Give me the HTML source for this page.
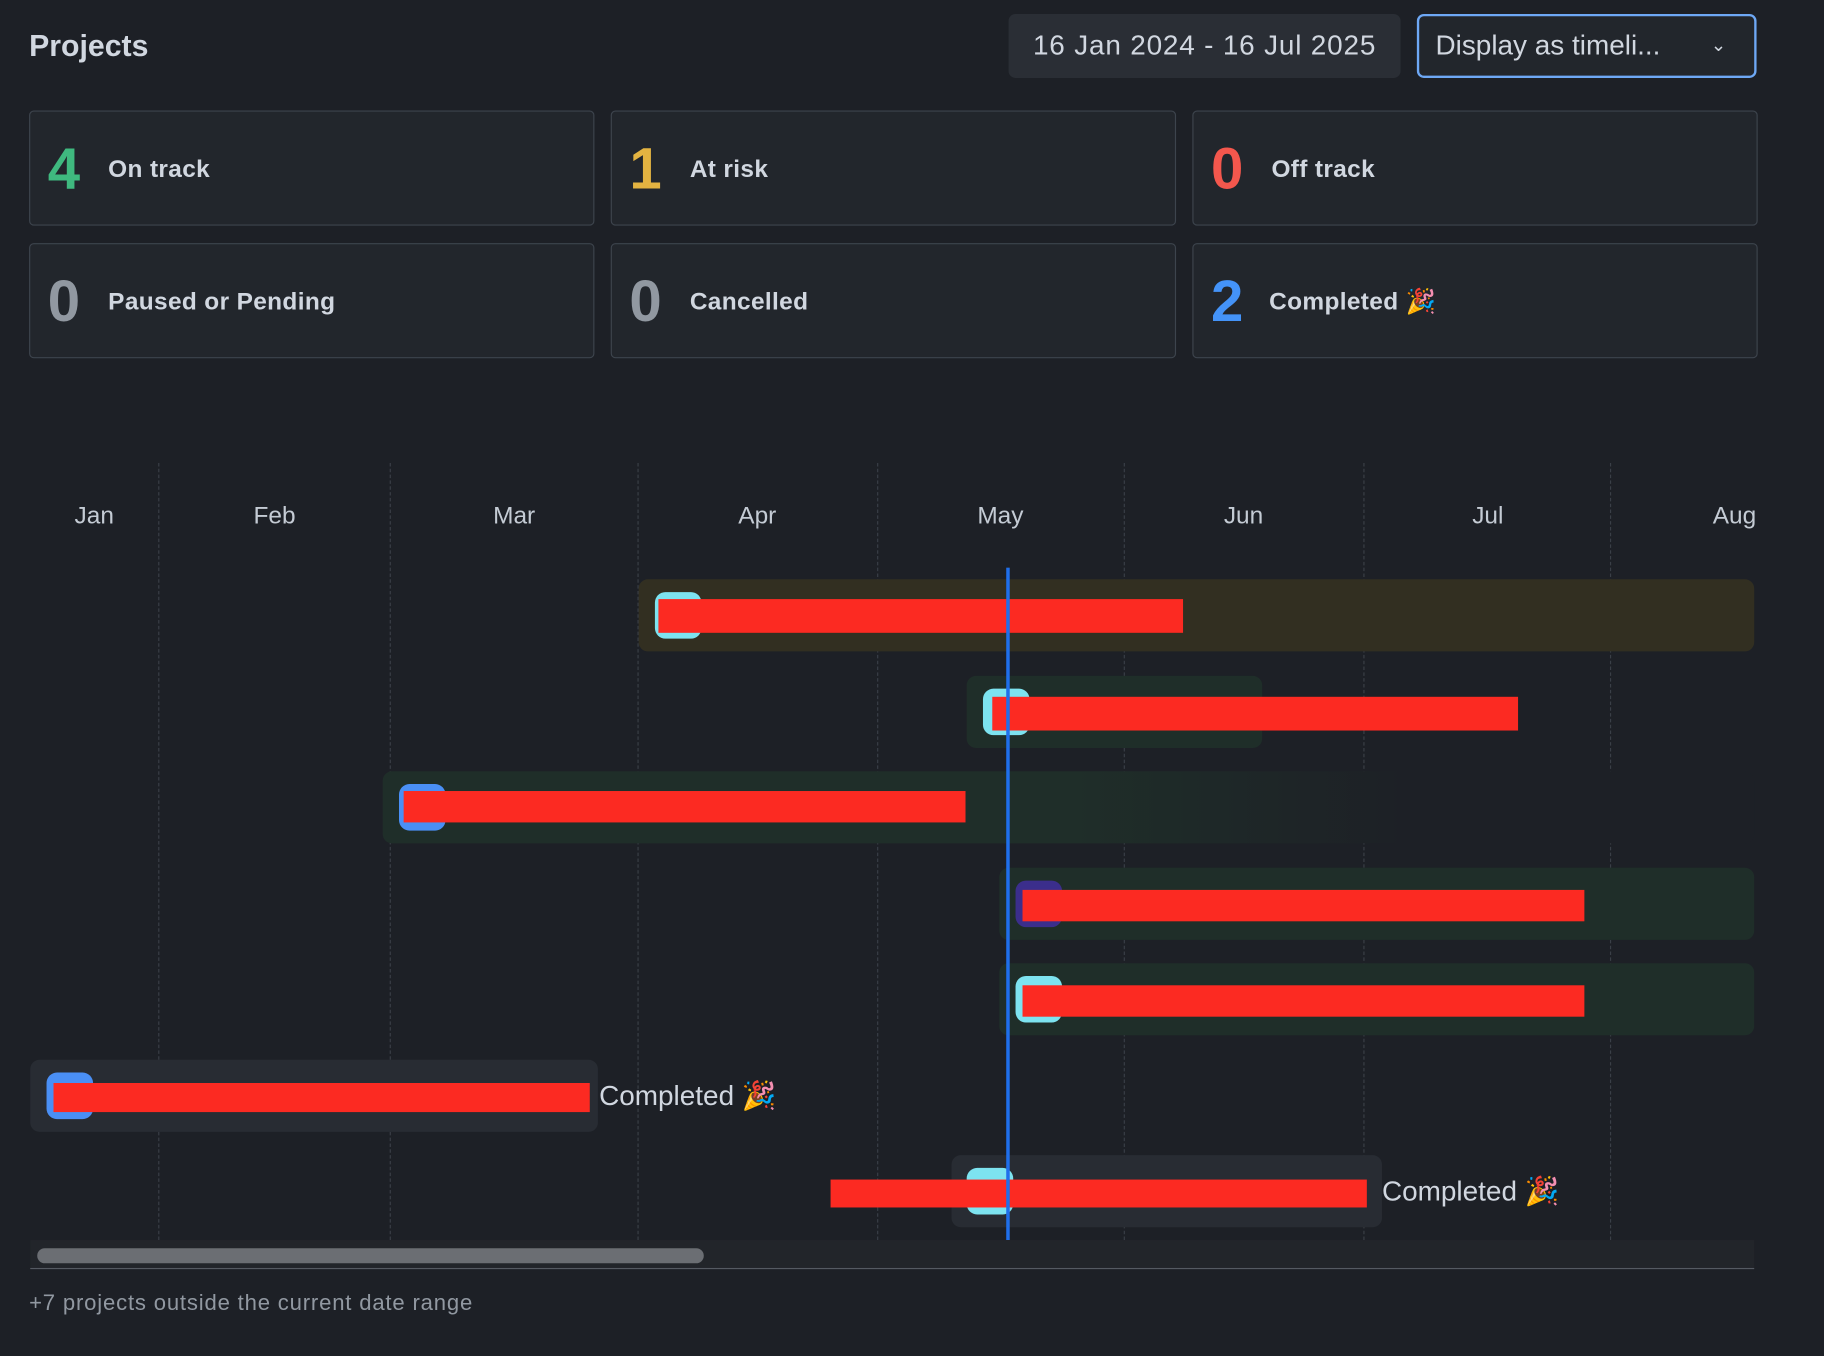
<!DOCTYPE html>
<html><head><meta charset="utf-8"><style>
html,body{margin:0;padding:0;background:#1d2026;width:1824px;height:1356px;overflow:hidden}
#w{position:absolute;left:0;top:0;width:1568px;height:1166px;transform:scale(1.16327);transform-origin:0 0;font-family:"Liberation Sans","Noto Sans CJK JP",sans-serif;color:#d1d7e0}
.a{position:absolute}
.card{position:absolute;width:486px;height:99px;background:#22262c;border:1px solid #3d444d;border-radius:4px;box-sizing:border-box}
.card .n{position:absolute;left:15px;top:21px;font-size:50px;line-height:56px;font-weight:bold}
.card .l{position:absolute;left:67px;top:37px;font-size:21px;font-weight:bold;line-height:26px;letter-spacing:0.3px}
.g{position:absolute;top:398px;height:668px;border-left:1px dashed #3a3f47}
.m{position:absolute;top:432px;font-size:21px;color:#c4cbd4;transform:translateX(-50%)}
.bg{position:absolute;height:62px;border-radius:8px}
.ic{position:absolute;width:40px;height:40px;border-radius:9px;box-sizing:border-box}
.r{position:absolute;background:#fc2a22}
.c{position:absolute;font-size:24px;color:#d1d7e0}
</style></head><body><div id="w">
<div class="a" style="left:25px;top:24px;font-size:26px;font-weight:bold">Projects</div>
<div class="a" style="left:867px;top:12px;width:337px;height:55px;background:#2a2e35;border-radius:6px;font-size:24px;line-height:55px;text-align:center;letter-spacing:0.7px">16 Jan 2024 - 16 Jul 2025</div>
<div class="a" style="left:1218px;top:12px;width:292px;height:55px;border:2px solid #6ea8f5;border-radius:6px;box-sizing:border-box;background:#22262c;font-size:24px;line-height:51px;padding-left:14px">Display as timeli...<span style="position:absolute;right:24px;top:0;font-size:16px">&#8964;</span></div>

<div class="card" style="left:25px;top:95px"><div class="n" style="color:#3fb97f">4</div><div class="l">On track</div></div>
<div class="card" style="left:525px;top:95px"><div class="n" style="color:#e3b341">1</div><div class="l">At risk</div></div>
<div class="card" style="left:1025px;top:95px"><div class="n" style="color:#f4574d">0</div><div class="l">Off track</div></div>
<div class="card" style="left:25px;top:209px"><div class="n" style="color:#9198a1">0</div><div class="l">Paused or Pending</div></div>
<div class="card" style="left:525px;top:209px"><div class="n" style="color:#9198a1">0</div><div class="l">Cancelled</div></div>
<div class="card" style="left:1025px;top:209px"><div class="n" style="color:#4493f8">2</div><div class="l" style="left:65px">Completed 🎉</div></div>

<div class="g" style="left:136px"></div><div class="g" style="left:335px"></div><div class="g" style="left:548px"></div><div class="g" style="left:754px"></div><div class="g" style="left:966px"></div><div class="g" style="left:1172px"></div><div class="g" style="left:1384px"></div>
<div class="m" style="left:81px">Jan</div><div class="m" style="left:236px">Feb</div><div class="m" style="left:442px">Mar</div><div class="m" style="left:651px">Apr</div><div class="m" style="left:860px">May</div><div class="m" style="left:1069px">Jun</div><div class="m" style="left:1279px">Jul</div><div class="m" style="left:1491px">Aug</div>

<div class="bg" style="left:549px;top:498px;width:959px;background:#322f21"></div>
<div class="bg" style="left:831px;top:581px;width:254px;background:#1f2e29"></div>
<div class="bg" style="left:329px;top:663px;width:1179px;background:linear-gradient(90deg,#1f2e29 50%,#1d2026 75%)"></div>
<div class="bg" style="left:859px;top:746px;width:649px;background:#1f2e29"></div>
<div class="bg" style="left:859px;top:828px;width:649px;background:#1f2e29"></div>
<div class="bg" style="left:26px;top:911px;width:488px;background:#282c33"></div>
<div class="bg" style="left:818px;top:993px;width:370px;background:#282c33"></div>

<div class="ic" style="left:563px;top:509px;background:#7de3f0"></div>
<div class="ic" style="left:845px;top:592px;background:#7de3f0"></div>
<div class="ic" style="left:343px;top:674px;background:#4a8ff5"></div>
<div class="ic" style="left:873px;top:757px;background:#3b2e8c"></div>
<div class="ic" style="left:873px;top:839px;background:#7de3f0"></div>
<div class="ic" style="left:40px;top:922px;background:#4a8ff5"></div>
<div class="ic" style="left:831px;top:1004px;background:#7de3f0"></div>

<div class="r" style="left:566px;top:515px;width:451px;height:29px"></div>
<div class="r" style="left:853px;top:599px;width:452px;height:29px"></div>
<div class="r" style="left:347px;top:680px;width:483px;height:27px"></div>
<div class="r" style="left:879px;top:765px;width:483px;height:27px"></div>
<div class="r" style="left:879px;top:847px;width:483px;height:27px"></div>
<div class="r" style="left:46px;top:931px;width:461px;height:25px"></div>
<div class="r" style="left:714px;top:1014px;width:461px;height:24px"></div>
<div class="c" style="left:515px;top:928px">Completed 🎉</div>
<div class="c" style="left:1188px;top:1010px">Completed 🎉</div>

<div class="a" style="left:865px;top:488px;width:3px;height:578px;background:#1f6feb"></div>
<div class="a" style="left:26px;top:1066px;width:1482px;height:24px;background:#22252a;border-bottom:1px solid #555a62"></div>
<div class="a" style="left:32px;top:1073px;width:573px;height:13px;background:#6b6e73;border-radius:7px"></div>
<div class="a" style="left:25px;top:1110px;font-size:19px;letter-spacing:0.7px;color:#9198a1">+7 projects outside the current date range</div>
</div></body></html>
